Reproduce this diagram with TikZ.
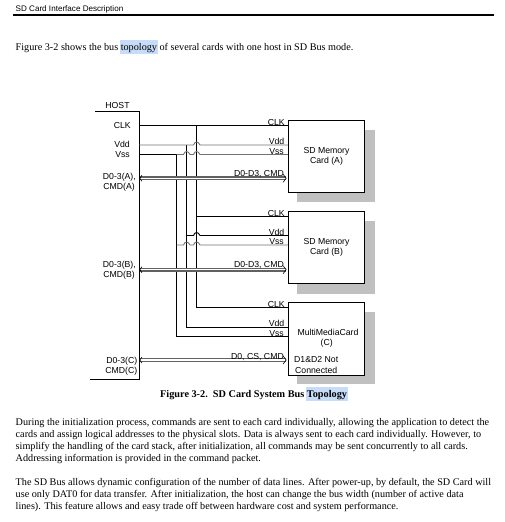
\documentclass[tikz,border=0pt]{standalone}
\usepackage{fontspec}
\setmainfont{Liberation Serif}
\setsansfont{Liberation Sans}
\usetikzlibrary{arrows.meta}
\definecolor{hl}{HTML}{C6DCF8}
\definecolor{shadow}{HTML}{C0C0C0}
\tikzset{
  x=1pt,y=-1pt,
  wire/.style={draw=black,line width=.9pt},
  graywire/.style={draw=black!55,line width=.9pt},
  bus/.style={draw=black!62,double=white,line width=1.1pt,double distance=1.5pt,
    {Straight Barb[length=2pt,width=6pt,line width=.6pt,black]}-{Straight Barb[length=3pt,width=8pt,line width=.6pt,black]}},
  card/.style={draw=black,fill=white,line width=1pt,minimum width=76pt,minimum height=72pt,inner sep=0pt,
    font=\sffamily\fontsize{8.7}{10}\selectfont,align=center},
  lab/.style={font=\sffamily\fontsize{8.7}{10}\selectfont,inner sep=0pt},
  pinr/.style={lab,anchor=base east},
  bodytext/.style={font=\fontsize{10.2}{12}\selectfont,inner sep=0pt,anchor=base west},
  captext/.style={font=\bfseries\fontsize{10.25}{12}\selectfont,inner sep=0pt,anchor=base west}
}
\begin{document}
\begin{tikzpicture}
\useasboundingbox (0,0) rectangle (505,522);
\fill[white] (0,0) rectangle (505,522);
% header
\node[lab,anchor=base west,font=\sffamily\fontsize{8.1}{10}\selectfont] (hdr) at (15.5,12) {SD Card Interface Description};
\fill[black] (13,14) rectangle (494,16);
% highlights
\fill[hl] (120,39.5) rectangle (157.7,54);
\fill[hl] (306,387.3) rectangle (348,400.7);
\node[bodytext] (intro) at (15.5,50) {Figure 3-2 shows the bus topology of several cards with one host in SD Bus mode.};
% shadows
\fill[shadow] (297,130) rectangle (375,202);
\fill[shadow] (297,221) rectangle (375,293.5);
\fill[shadow] (297,312) rectangle (375,383.5);
% cards
\node[card] (cardA) at (326.5,156.5) {SD Memory\\Card (A)};
\node[card] (cardB) at (326.5,247.5) {SD Memory\\Card (B)};
\node[card,minimum height=73pt] (cardC) at (326.5,338.5) {};
\node[lab] (mmc) at (328,332.7) {MultiMediaCard};
\node[lab] (mmcc) at (326.7,343.7) {(C)};
\node[lab,anchor=west] (nc1) at (294,360) {D1\&D2 Not};
\node[lab,anchor=west] (nc2) at (295,370) {Connected};
% host
\node[lab] (host) at (117.5,105.7) {HOST};
\coordinate (h1) at (95,111.5);
\coordinate (h2) at (139,111.5);
\coordinate (h3) at (139,379.5);
\coordinate (h4) at (90,379.5);
\draw[wire] (h1) -- (h2) -- (h3) -- (h4);
% host pins
\coordinate (hclk) at (139,125.5);
\coordinate (hvdd) at (139,145);
\coordinate (hvss) at (139,154.5);
\coordinate (tclk) at (196.5,125.5);
\coordinate (tvdd) at (186.5,145);
\coordinate (tvss) at (176.5,154.5);
\node[pinr] (lclk) at (131,128) {CLK};
\node[pinr] (lvdd) at (130,147.3) {Vdd};
\node[pinr] (lvss) at (130,157.3) {Vss};
\node[pinr] (la1) at (136,179) {D0-3(A),};
\node[pinr] (la2) at (135,189) {CMD(A)};
\node[pinr] (lb1) at (136,267.3) {D0-3(B),};
\node[pinr] (lb2) at (135,277.3) {CMD(B)};
\node[pinr] (lc1) at (137.5,363.3) {D0-3(C)};
\node[pinr] (lc2) at (137.5,373.3) {CMD(C)};
% bus junctions
\coordinate (cB) at (196.5,216.5);
\coordinate (dB) at (186.5,235.5);
\coordinate (sB) at (176.5,245);
\coordinate (cC) at (196.5,307.5);
\coordinate (dC) at (186.5,327.5);
\coordinate (sC) at (176.5,336.5);
% verticals
\draw[wire] (tclk) -- (cC) -- (cardC.west |- cC);
\draw[wire] (tvdd) -- (dC) -- (cardC.west |- dC);
\draw[wire] (tvss) -- (sC) -- (cardC.west |- sC);
% horizontal CLK
\draw[wire] (hclk) -- (cardA.west |- hclk);
\draw[wire] (cB) -- (cardB.west |- cB);
% Vdd A
\draw[graywire] (hvdd) -- (193.5,145) .. controls (195,141) and (198,141) .. (200,145) -- (cardA.west |- hvdd);
% Vss A
\draw[wire] (hvss) -- (tvss);
\draw[graywire] (tvss) -- (183.5,154.5) .. controls (185,150.5) and (188,150.5) .. (190,154.5)
  -- (193.5,154.5) .. controls (195,150.5) and (198,150.5) .. (200,154.5) -- (cardA.west |- hvss);
% Vdd B
\draw[wire] (dB) -- (193.5,235.5) .. controls (195,231.5) and (198,231.5) .. (200,235.5) -- (cardB.west |- dB);
% Vss B
\draw[graywire] (sB) -- (183.5,245) .. controls (185,241) and (188,241) .. (190,245)
  -- (193.5,245) .. controls (195,241) and (198,241) .. (200,245) -- (cardB.west |- sB);
% buses
\coordinate (ba) at (139.5,178.3);
\coordinate (bb) at (139.5,269.7);
\coordinate (bc) at (139.5,360);
\draw[bus] (ba) -- ([xshift=-1.5pt]cardA.west |- ba);
\draw[bus] (bb) -- ([xshift=-1.5pt]cardB.west |- bb);
\draw[bus] (bc) -- ([xshift=-1.5pt]cardC.west |- bc);
% card side labels
\node[pinr] (aclk) at (285,125) {CLK};
\node[pinr] (avdd) at (284.5,144.3) {Vdd};
\node[pinr] (avss) at (284,154) {Vss};
\node[pinr] (abus) at (284,176.5) {D0-D3, CMD};
\node[pinr] (bclk) at (285,216) {CLK};
\node[pinr] (bvdd) at (284.5,235) {Vdd};
\node[pinr] (bvss) at (284,244.5) {Vss};
\node[pinr] (bbus) at (284,267.5) {D0-D3, CMD};
\node[pinr] (cclk) at (285,307) {CLK};
\node[pinr] (cvdd) at (284.5,326.5) {Vdd};
\node[pinr] (cvss) at (284,336) {Vss};
\node[pinr] (cbus) at (284,359) {D0, CS, CMD};
% caption
\node[captext] (caption) at (160,397) {Figure 3-2.\ \ SD Card System Bus Topology};
% body
\node[bodytext] (p1) at (15.5,425) {During the initialization process, commands are sent to each card individually, allowing the application to detect the};
\node[bodytext] (p2) at (15.5,437) {cards and assign logical addresses to the physical slots. Data is always sent to each card individually. However, to};
\node[bodytext] (p3) at (15.5,449) {simplify the handling of the card stack, after initialization, all commands may be sent concurrently to all cards.};
\node[bodytext] (p4) at (15.5,461) {Addressing information is provided in the command packet.};
\node[bodytext] (p5) at (15.5,485.5) {The SD Bus allows dynamic configuration of the number of data lines. After power-up, by default, the SD Card will};
\node[bodytext] (p6) at (15.5,497.5) {use only DAT0 for data transfer. After initialization, the host can change the bus width (number of active data};
\node[bodytext] (p7) at (15.5,509.5) {lines). This feature allows and easy trade off between hardware cost and system performance.};
\end{tikzpicture}
\end{document}
